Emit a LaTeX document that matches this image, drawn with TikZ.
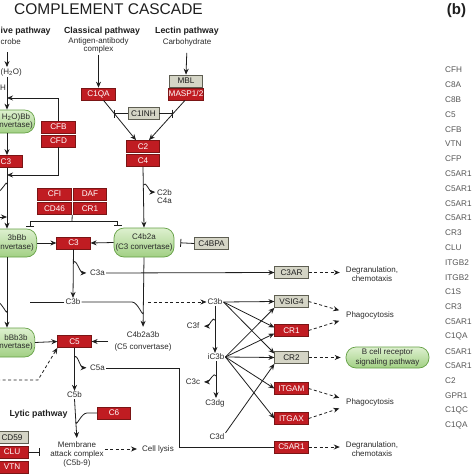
\documentclass[tikz,border=0pt]{standalone}
\usepackage{fontspec}
\setmainfont{Liberation Sans}
\usepackage{tikz}
\usetikzlibrary{arrows.meta,positioning,calc}

\definecolor{ink}{HTML}{1E1E1E}
\definecolor{note}{HTML}{2A2A2A}
\definecolor{kred}{HTML}{E2342F}
\definecolor{kreddark}{HTML}{C01C22}
\definecolor{kredline}{HTML}{7A1515}
\definecolor{kgray}{HTML}{D5D5C6}
\definecolor{kgrayline}{HTML}{5E5E52}
\definecolor{kgreenhi}{HTML}{DDF0CF}
\definecolor{kgreenlo}{HTML}{A2D084}
\definecolor{kgreenline}{HTML}{64A044}

\tikzset{
  gene/.style={rectangle,line width=0.7pt,minimum width=33.5pt,minimum height=12pt,
    inner sep=0pt,font=\fontsize{8.2}{8.5}\selectfont},
  redgene/.style={gene,draw=kredline,left color=kreddark,middle color=kred,right color=kreddark,text=white},
  graygene/.style={gene,draw=kgrayline,fill=kgray,text=ink},
  pathmap/.style={rectangle,rounded corners=10pt,draw=kgreenline,line width=0.7pt,
    top color=kgreenhi,bottom color=kgreenlo,text=note,align=center,inner sep=1pt,
    font=\fontsize{8}{9.6}\selectfont},
  lbl/.style={text=note,align=center,inner sep=1pt,font=\fontsize{8}{8.6}\selectfont},
  head/.style={text=ink,inner sep=1pt,font=\bfseries\fontsize{8.8}{10}\selectfont},
  listrow/.style={text=note!80!white,anchor=west,inner sep=0pt,font=\fontsize{8.2}{9}\selectfont},
  dashpat/.style={dash pattern=on 3pt off 2.5pt},
  inhibit/.style={-{Bar[width=8pt]}}
}

\begin{document}
\begin{tikzpicture}[x=1pt,y=-1pt]
\useasboundingbox (0,0) rectangle (474,474);
\clip (0,0) rectangle (474,474);

% titles and pathway headers
\node[text=ink,font=\fontsize{15.5}{18}\selectfont] (title) at (108.5,9.5) {COMPLEMENT CASCADE};
\node[text=ink,font=\bfseries\fontsize{15}{18}\selectfont] (panel) at (456.5,11) {(b)};
\begin{scope}[every node/.style={head}]
    \node[anchor=west] (altHead) at (-0.5,31) {ive pathway};
    \node (clsHead) at (102,31) {Classical pathway};
    \node (lecHead) at (187,31) {Lectin pathway};
    \node (lytHead) at (38.5,414) {Lytic pathway};
\end{scope}

% green pathway maps (the left ones run off the picture)
\begin{scope}[every node/.style={pathmap}]
    \node[minimum width=70pt,minimum height=23pt,anchor=east] (altConv) at (35,121.5) {};
    \node[minimum width=70pt,minimum height=28pt,anchor=east] (c3Conv) at (37,243) {};
    \node[minimum width=70pt,minimum height=29pt,anchor=east] (c5ConvAlt) at (35,342.5) {};
    \node[minimum width=60pt,minimum height=29pt] (C4b2a) at (144,242.5) {C4b2a\\(C3 convertase)};
    \node[minimum width=83pt,minimum height=21pt] (BCR) at (387.5,357.5) {B cell receptor\\signaling pathway};
\end{scope}

% red gene boxes
\begin{scope}[every node/.style={redgene}]
    \node (C1QA) at (98.5,94) {C1QA};
    \node (MASP) at (186,94) {MASP1/2};
    \node (CFB) at (58.5,127) {CFB};
    \node (CFD) at (58.5,141) {CFD};
    \node (C2) at (143,146.5) {C2};
    \node (C4) at (143,160.5) {C4};
    \node[anchor=east] (C3alt) at (23,161.5) {C3};
    \node (CFI) at (54.5,194) {CFI};
    \node (DAF) at (90,194) {DAF};
    \node (CD46) at (54.5,208.5) {CD46};
    \node (CR1reg) at (90,208.5) {CR1};
    \node (C3) at (73.5,243) {C3};
    \node (C5) at (74.5,341.5) {C5};
    \node (C6) at (114,413) {C6};
    \node (CLU) at (12,452) {CLU};
    \node (VTN) at (12,467) {VTN};
    \node (CR1) at (291.5,330.5) {CR1};
    \node (ITGAM) at (291.5,388.5) {ITGAM};
    \node (ITGAX) at (291.5,418.5) {ITGAX};
    \node (C5AR1) at (291.5,447) {C5AR1};
\end{scope}

% gray gene boxes
\begin{scope}[every node/.style={graygene}]
    \node (MBL) at (186,81) {MBL};
    \node[minimum width=31pt] (C1INH) at (143.5,113.5) {C1INH};
    \node (C4BPA) at (211.5,243.5) {C4BPA};
    \node (C3AR) at (291.5,272.5) {C3AR};
    \node (VSIG4) at (291.5,301.5) {VSIG4};
    \node (CR2) at (291.5,357.5) {CR2};
    \node (CD59) at (12,437.5) {CD59};
\end{scope}

% compounds and outcomes
\begin{scope}[every node/.style={lbl}]
    \node[anchor=west] (microbe) at (-0.5,42) {crobe};
    \node (antigen) at (98.5,45.5) {Antigen-antibody\\complex};
    \node (carb) at (187,42) {Carbohydrate};
    \node[anchor=west] (c3water) at (-0.5,72) {(H\textsubscript{2}O)};
    \node[anchor=west] (cfhEdge) at (-1,88) {H};
    \node (altConvTxt) at (16,121.5) {H\textsubscript{2}O)Bb\\nvertase)};
    \node (c3ConvTxt) at (17,243) {3bBb\\nvertase)};
    \node (c5ConvTxt) at (16,342.5) {bBb3b\\nvertase)};
    \node[anchor=west,align=left] (C2bC4a) at (156,196.5) {C2b\\C4a};
    \node[anchor=west] (C3a) at (89,273) {C3a};
    \node (C3b) at (73,302) {C3b};
    \node (C5conv) at (143,341.5) {C4b2a3b\\[3pt](C5 convertase)};
    \node[anchor=west] (C5a) at (89,368) {C5a};
    \node (C5b) at (74.5,395) {C5b};
    \node (MAC) at (77,454.5) {Membrane\\attack complex\\(C5b-9)};
    \node (lysis) at (158,449) {Cell lysis};
    \node (C3bR) at (215,302) {C3b};
    \node (C3f) at (193,326) {C3f};
    \node (iC3b) at (216,357) {iC3b};
    \node (C3c) at (193,382) {C3c};
    \node (C3dg) at (215,403) {C3dg};
    \node (C3d) at (217,437) {C3d};
    \node (deg1) at (372,274) {Degranulation,\\chemotaxis};
    \node (phag1) at (370,315) {Phagocytosis};
    \node (phag2) at (370,402.5) {Phagocytosis};
    \node (deg2) at (372,449) {Degranulation,\\chemotaxis};
\end{scope}

% gene list of panel (b)
\node[listrow] (row1) at (445,70) {CFH};
\node[listrow] (row2) at (445,84.8) {C8A};
\node[listrow] (row3) at (445,99.6) {C8B};
\node[listrow] (row4) at (445,114.4) {C5};
\node[listrow] (row5) at (445,129.2) {CFB};
\node[listrow] (row6) at (445,144) {VTN};
\node[listrow] (row7) at (445,158.8) {CFP};
\node[listrow] (row8) at (445,173.6) {C5AR1};
\node[listrow] (row9) at (445,188.4) {C5AR1};
\node[listrow] (row10) at (445,203.2) {C5AR1};
\node[listrow] (row11) at (445,218) {C5AR1};
\node[listrow] (row12) at (445,232.8) {CR3};
\node[listrow] (row13) at (445,247.6) {CLU};
\node[listrow] (row14) at (445,262.4) {ITGB2};
\node[listrow] (row15) at (445,277.2) {ITGB2};
\node[listrow] (row16) at (445,292) {C1S};
\node[listrow] (row17) at (445,306.8) {CR3};
\node[listrow] (row18) at (445,321.6) {C5AR1};
\node[listrow] (row19) at (445,336.4) {C1QA};
\node[listrow] (row20) at (445,351.2) {C5AR1};
\node[listrow] (row21) at (445,366) {C5AR1};
\node[listrow] (row22) at (445,380.8) {C2};
\node[listrow] (row23) at (445,395.6) {GPR1};
\node[listrow] (row24) at (445,410.4) {C1QC};
\node[listrow] (row25) at (445,425.2) {C1QA};

% connectors
\begin{scope}[>={Stealth[length=6pt,width=5pt]},color=ink,line width=0.8pt,
              every edge/.style={draw=ink,line width=0.8pt}]
    \coordinate (lx) at (7,0);
    \coordinate (loopTop) at (58.5,98);
    \coordinate (loopBot) at (58.5,175);
    \coordinate (hookA) at (-3,192);
    \coordinate (fromLeft) at (-3,217);
    \coordinate (hookB) at (-3,302);
    \coordinate (c3bEnd) at (30,302);
    \coordinate (c3bTurn) at (132,302);
    \coordinate (c3bDash) at (148,302);
    \coordinate (c5In) at (108,341.5);
    \coordinate (dashStart) at (-3,380);
    \coordinate (dashBend) at (38,380);
    \coordinate (c5aCorner) at (179,368);
    \coordinate (regJoin) at (72,221);

    % alternative pathway column
    \draw[->,shorten <=6pt] (microbe.south -| lx) -- (c3water.north -| lx);
    \draw[->] (c3water.south -| lx) -- (altConv.north -| lx);
    \draw[->] (altConv.south -| lx) -- (C3alt.north -| lx);
    \draw[->] (C3alt.south -| lx) -- (c3Conv.north -| lx);
    \draw[->] (c3Conv.south -| lx) -- (c5ConvAlt.north -| lx);
    \draw[->] (CFB.north) -- (loopTop) -- (loopTop -| lx);
    \draw[->] (CFD.south) -- (loopBot) -- (loopBot -| lx);
    \draw (lx |- 0,184) to[out=90,in=0] (hookA);
    \draw[->] (fromLeft) -- (fromLeft -| lx);
    \draw (hookB) to[out=0,in=270] (lx |- 0,311);

    % classical and lectin pathways
    \draw[->] (antigen.south) -- (C1QA.north);
    \draw[->,shorten <=6pt] (carb.south) -- (MBL.north);
    \draw[->] ([xshift=5pt]C1QA.south) -- coordinate[pos=.33] (hitL) ([xshift=-7pt]C2.north);
    \draw[->] ([xshift=-1pt]MASP.south) -- coordinate[pos=.33] (hitR) ([xshift=6pt]C2.north);
    \draw[inhibit] (C1INH.west) -- (hitL |- C1INH.west);
    \draw[inhibit] (C1INH.east) -- (hitR |- C1INH.east);
    \draw[->] (C4.south) -- coordinate[pos=.3] (brC4) (C4b2a.north);
    \draw[->] (brC4) to[out=70,in=180] ++(12,7);

    % regulators of the C3 convertases
    \draw ($(CD46.south)!.5!(CR1reg.south)$) -- (regJoin);
    \draw[inhibit,shorten >=2pt] (regJoin) -| ([xshift=-7pt]c3Conv.north east);
    \draw[inhibit,shorten >=2pt] (regJoin) -| ([xshift=4pt]C4b2a.north west);
    \draw[inhibit,shorten >=6pt] (C4BPA.west) -- (C4b2a.east);

    \path[->] (c3Conv.east) edge (C3.west)
              (C4b2a.west) edge (C3.east)
              (c5ConvAlt.east) edge (C5.west)
              (c5In) edge (C5.east)
              (C3a.east) edge (C3AR.west);

    % C3 cleavage
    \draw[->] (C3.south) -- coordinate[pos=.28] (brC3) (C3b.north);
    \draw[->] (brC3) to[out=70,in=180] ++(13,10);
    \draw[->,dashpat,shorten >=5pt] (C3AR.east) -- (C3AR.east -| deg1.west);
    \draw[->,shorten >=4pt] (C4b2a.south) -- coordinate[pos=.75] (jC5) (C5conv.north);
    \draw (C3b.west) -- (c3bEnd);
    \draw (C3b.east) -- (c3bTurn) to[out=0,in=270] (jC5);
    \draw[->,dashpat] (c3bDash) -- (C3bR.west);

    % C5 cleavage and lytic pathway
    \draw[->,dashpat] (dashStart) -- (dashBend) -- (C5.south west);
    \draw[->] (C5.south) -- coordinate[pos=.23] (brC5) (C5b.north);
    \draw[->] (brC5) to[out=70,in=180] ++(12,10);
    \draw (C5a.east) -- (c5aCorner) |- (C5AR1.west);
    \draw[->,shorten >=3pt] (C5b.south) -- coordinate[pos=.55] (jC6) (MAC.north);
    \draw (C6.west) -- ++(-10,0) to[out=180,in=270] (jC6);
    \draw[inhibit,shorten >=9pt] (CLU.east) -- (CLU.east -| MAC.west);
    \draw[->,dashpat,shorten >=4pt] (MAC.east |- lysis.west) -- (lysis.west);

    % C3b fragments
    \draw[->] (C3bR.south) -- coordinate[pos=.3] (brC3b) (C3bR.south |- iC3b.north);
    \draw[->] (brC3b) to[out=110,in=0] ++(-11,6);
    \draw[->] (iC3b.south) -- coordinate[pos=.4] (briC3b) (iC3b.south |- C3dg.north);
    \draw[->] (briC3b) to[out=110,in=0] ++(-12,6);

    % receptors
    \path[->] (C3bR.east) edge (VSIG4.west)
              (C3bR.east) edge ([yshift=3pt]CR1.west)
              (C3bR.east) edge ([yshift=4pt]CR2.west)
              (iC3b.east) edge (VSIG4.south west)
              (iC3b.east) edge ([yshift=-3pt]CR1.west)
              (iC3b.east) edge (CR2.west)
              (iC3b.east) edge (ITGAM.west)
              (iC3b.east) edge (ITGAX.west)
              (C3d.north east) edge (CR2.south west);

    % outcomes
    \draw[->,dashpat,shorten >=6pt] (VSIG4.east) -- ([yshift=3pt]phag1.west);
    \draw[->,dashpat,shorten >=6pt] (CR1.east) -- ([yshift=-4pt]phag1.west);
    \draw[->,dashpat,shorten >=5pt] (CR2.east) -- (BCR.west);
    \draw[->,dashpat,shorten >=6pt] (ITGAM.east) -- ([yshift=3pt]phag2.west);
    \draw[->,dashpat,shorten >=6pt] (ITGAX.east) -- ([yshift=-4pt]phag2.west);
    \draw[->,dashpat,shorten >=5pt] (C5AR1.east) -- (C5AR1.east -| deg2.west);
\end{scope}
\end{tikzpicture}
\end{document}
